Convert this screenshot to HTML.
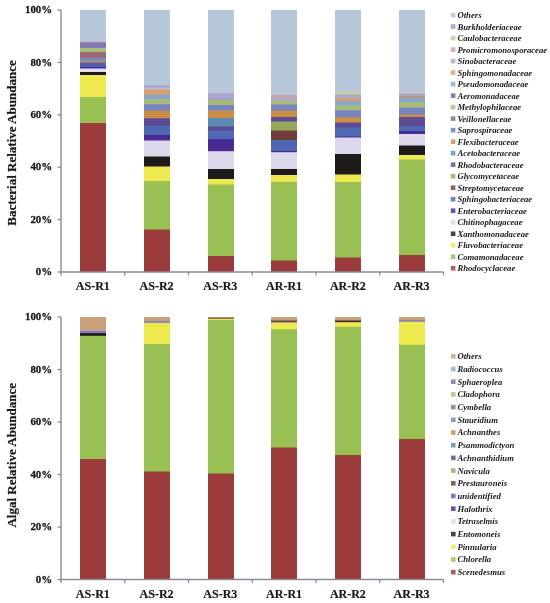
<!DOCTYPE html>
<html><head><meta charset="utf-8"><title>Relative abundance</title>
<style>
html,body{margin:0;padding:0;background:#fff;width:550px;height:603px;overflow:hidden}
svg{display:block;will-change:transform}
.yl{font-family:"Liberation Serif",serif;font-weight:bold;font-size:10.9px;stroke:#1a1a1a;stroke-width:0.3px;text-anchor:end;fill:#1a1a1a}
.xl{font-family:"Liberation Serif",serif;font-weight:bold;font-size:12px;stroke:#1a1a1a;stroke-width:0.2px;text-anchor:middle;fill:#1a1a1a}
.lg{font-family:"Liberation Serif",serif;font-weight:bold;font-style:italic;font-size:8.7px;fill:#1a1a1a}
.tt{font-family:"Liberation Serif",serif;font-weight:bold;font-size:13px;stroke:#1a1a1a;stroke-width:0.2px;text-anchor:middle;fill:#1a1a1a}
</style></head>
<body>
<svg width="550" height="603" viewBox="0 0 550 603">
<rect width="550" height="603" fill="#fff"/>
<rect x="80" y="10" width="26" height="262" fill="#B7C6D9"/>
<rect x="80" y="41.5" width="26" height="230.5" fill="#C9A3AA"/>
<rect x="80" y="42.5" width="26" height="229.5" fill="#8076B6"/>
<rect x="80" y="47.8" width="26" height="224.2" fill="#A8BC7A"/>
<rect x="80" y="52" width="26" height="220" fill="#9B6B72"/>
<rect x="80" y="58" width="26" height="214" fill="#6E8ACA"/>
<rect x="80" y="61" width="26" height="211" fill="#C98E45"/>
<rect x="80" y="62.5" width="26" height="209.5" fill="#5060AE"/>
<rect x="80" y="67" width="26" height="205" fill="#4B2A95"/>
<rect x="80" y="68.5" width="26" height="203.5" fill="#E4DEEF"/>
<rect x="80" y="72" width="26" height="200" fill="#1E1A1A"/>
<rect x="80" y="75" width="26" height="197" fill="#EEE94F"/>
<rect x="80" y="97" width="26" height="175" fill="#98C052"/>
<rect x="80" y="123" width="26" height="149" fill="#9A3B3C"/>
<rect x="144" y="10" width="26" height="262" fill="#B7C6D9"/>
<rect x="144" y="85" width="26" height="187" fill="#A9A6D5"/>
<rect x="144" y="87.8" width="26" height="184.2" fill="#B8BFD8"/>
<rect x="144" y="89.5" width="26" height="182.5" fill="#D9A06E"/>
<rect x="144" y="94.5" width="26" height="177.5" fill="#87A8CA"/>
<rect x="144" y="99.2" width="26" height="172.8" fill="#A8BC7A"/>
<rect x="144" y="104.2" width="26" height="167.8" fill="#7883C2"/>
<rect x="144" y="110.5" width="26" height="161.5" fill="#C98E45"/>
<rect x="144" y="118.2" width="26" height="153.8" fill="#5E4B92"/>
<rect x="144" y="125.8" width="26" height="146.2" fill="#4E68B3"/>
<rect x="144" y="135" width="26" height="137" fill="#4B2A95"/>
<rect x="144" y="140.5" width="26" height="131.5" fill="#DCD7EA"/>
<rect x="144" y="156.5" width="26" height="115.5" fill="#1E1A1A"/>
<rect x="144" y="166.5" width="26" height="105.5" fill="#EEE94F"/>
<rect x="144" y="181" width="26" height="91" fill="#98C052"/>
<rect x="144" y="229.5" width="26" height="42.5" fill="#9A3B3C"/>
<rect x="208" y="10" width="26" height="262" fill="#B7C6D9"/>
<rect x="208" y="93" width="26" height="179" fill="#B2A6CC"/>
<rect x="208" y="95" width="26" height="177" fill="#A9A6D5"/>
<rect x="208" y="99.5" width="26" height="172.5" fill="#A89090"/>
<rect x="208" y="100" width="26" height="172" fill="#A8BC7A"/>
<rect x="208" y="105" width="26" height="167" fill="#7883C2"/>
<rect x="208" y="110.5" width="26" height="161.5" fill="#C98E45"/>
<rect x="208" y="118" width="26" height="154" fill="#5B8AB5"/>
<rect x="208" y="126.5" width="26" height="145.5" fill="#5E4B92"/>
<rect x="208" y="130.5" width="26" height="141.5" fill="#4E68B3"/>
<rect x="208" y="139" width="26" height="133" fill="#4B2A95"/>
<rect x="208" y="151.2" width="26" height="120.8" fill="#DCD7EA"/>
<rect x="208" y="169" width="26" height="103" fill="#1E1A1A"/>
<rect x="208" y="179" width="26" height="93" fill="#EEE94F"/>
<rect x="208" y="184.5" width="26" height="87.5" fill="#98C052"/>
<rect x="208" y="256" width="26" height="16" fill="#9A3B3C"/>
<rect x="271" y="10" width="26" height="262" fill="#B7C6D9"/>
<rect x="271" y="95" width="26" height="177" fill="#C9A3AA"/>
<rect x="271" y="98" width="26" height="174" fill="#B0A5D0"/>
<rect x="271" y="100.8" width="26" height="171.2" fill="#A8BC7A"/>
<rect x="271" y="104.5" width="26" height="167.5" fill="#7883C2"/>
<rect x="271" y="110.5" width="26" height="161.5" fill="#C98E45"/>
<rect x="271" y="117" width="26" height="155" fill="#5E4B92"/>
<rect x="271" y="121.5" width="26" height="150.5" fill="#93AA5C"/>
<rect x="271" y="130.5" width="26" height="141.5" fill="#6E3F3A"/>
<rect x="271" y="140" width="26" height="132" fill="#4E68B3"/>
<rect x="271" y="151" width="26" height="121" fill="#4B2A95"/>
<rect x="271" y="152.2" width="26" height="119.8" fill="#DCD7EA"/>
<rect x="271" y="169" width="26" height="103" fill="#1E1A1A"/>
<rect x="271" y="175" width="26" height="97" fill="#EEE94F"/>
<rect x="271" y="181.8" width="26" height="90.2" fill="#98C052"/>
<rect x="271" y="260.5" width="26" height="11.5" fill="#9A3B3C"/>
<rect x="335" y="10" width="26" height="262" fill="#B7C6D9"/>
<rect x="335" y="91.5" width="26" height="180.5" fill="#C4D0A6"/>
<rect x="335" y="94.8" width="26" height="177.2" fill="#A9A6D5"/>
<rect x="335" y="98" width="26" height="174" fill="#D9A06E"/>
<rect x="335" y="101" width="26" height="171" fill="#87A8CA"/>
<rect x="335" y="105.5" width="26" height="166.5" fill="#A8BC7A"/>
<rect x="335" y="110.2" width="26" height="161.8" fill="#7883C2"/>
<rect x="335" y="117" width="26" height="155" fill="#C98E45"/>
<rect x="335" y="122.5" width="26" height="149.5" fill="#5E4B92"/>
<rect x="335" y="127.5" width="26" height="144.5" fill="#4E68B3"/>
<rect x="335" y="136.5" width="26" height="135.5" fill="#4B2A95"/>
<rect x="335" y="137.5" width="26" height="134.5" fill="#DCD7EA"/>
<rect x="335" y="154" width="26" height="118" fill="#1E1A1A"/>
<rect x="335" y="174.5" width="26" height="97.5" fill="#EEE94F"/>
<rect x="335" y="182" width="26" height="90" fill="#98C052"/>
<rect x="335" y="257.5" width="26" height="14.5" fill="#9A3B3C"/>
<rect x="399" y="10" width="26" height="262" fill="#B7C6D9"/>
<rect x="399" y="92" width="26" height="180" fill="#C4CCB4"/>
<rect x="399" y="93.5" width="26" height="178.5" fill="#A9A6D5"/>
<rect x="399" y="95.8" width="26" height="176.2" fill="#D4925A"/>
<rect x="399" y="97.2" width="26" height="174.8" fill="#87A8CA"/>
<rect x="399" y="102" width="26" height="170" fill="#A8BC7A"/>
<rect x="399" y="107.5" width="26" height="164.5" fill="#7883C2"/>
<rect x="399" y="114.5" width="26" height="157.5" fill="#C98E45"/>
<rect x="399" y="117" width="26" height="155" fill="#5E4B92"/>
<rect x="399" y="126" width="26" height="146" fill="#4E68B3"/>
<rect x="399" y="131" width="26" height="141" fill="#4B2A95"/>
<rect x="399" y="134" width="26" height="138" fill="#DCD7EA"/>
<rect x="399" y="145.5" width="26" height="126.5" fill="#1E1A1A"/>
<rect x="399" y="155" width="26" height="117" fill="#EEE94F"/>
<rect x="399" y="159.5" width="26" height="112.5" fill="#98C052"/>
<rect x="399" y="255" width="26" height="17" fill="#9A3B3C"/>
<line x1="61" y1="10" x2="61" y2="275.5" stroke="#8A8A99" stroke-width="1.4"/>
<line x1="61" y1="272" x2="443.5" y2="272" stroke="#8A8A99" stroke-width="1.4"/>
<line x1="57.5" y1="10" x2="61" y2="10" stroke="#8A8A99" stroke-width="1.3"/>
<text x="52.2" y="13.2" class="yl">100%</text>
<line x1="57.5" y1="62.4" x2="61" y2="62.4" stroke="#8A8A99" stroke-width="1.3"/>
<text x="52.2" y="65.6" class="yl">80%</text>
<line x1="57.5" y1="114.8" x2="61" y2="114.8" stroke="#8A8A99" stroke-width="1.3"/>
<text x="52.2" y="118" class="yl">60%</text>
<line x1="57.5" y1="167.2" x2="61" y2="167.2" stroke="#8A8A99" stroke-width="1.3"/>
<text x="52.2" y="170.4" class="yl">40%</text>
<line x1="57.5" y1="219.6" x2="61" y2="219.6" stroke="#8A8A99" stroke-width="1.3"/>
<text x="52.2" y="222.8" class="yl">20%</text>
<line x1="57.5" y1="272" x2="61" y2="272" stroke="#8A8A99" stroke-width="1.3"/>
<text x="52.2" y="275.2" class="yl">0%</text>
<line x1="124.75" y1="272" x2="124.75" y2="275.5" stroke="#8A8A99" stroke-width="1.3"/>
<line x1="188.5" y1="272" x2="188.5" y2="275.5" stroke="#8A8A99" stroke-width="1.3"/>
<line x1="252.25" y1="272" x2="252.25" y2="275.5" stroke="#8A8A99" stroke-width="1.3"/>
<line x1="316" y1="272" x2="316" y2="275.5" stroke="#8A8A99" stroke-width="1.3"/>
<line x1="379.75" y1="272" x2="379.75" y2="275.5" stroke="#8A8A99" stroke-width="1.3"/>
<line x1="443.5" y1="272" x2="443.5" y2="275.5" stroke="#8A8A99" stroke-width="1.3"/>
<text x="92.88" y="290.2" class="xl">AS-R1</text>
<text x="156.62" y="290.2" class="xl">AS-R2</text>
<text x="220.38" y="290.2" class="xl">AS-R3</text>
<text x="284.12" y="290.2" class="xl">AR-R1</text>
<text x="347.88" y="290.2" class="xl">AR-R2</text>
<text x="411.62" y="290.2" class="xl">AR-R3</text>
<rect x="450.8" y="12.75" width="4.6" height="4.6" fill="#C4D0E0"/>
<text x="457.4" y="18" class="lg">Others</text>
<rect x="450.8" y="24.26" width="4.6" height="4.6" fill="#ADA9D0"/>
<text x="457.4" y="29.51" class="lg">Burkholderiaceae</text>
<rect x="450.8" y="35.77" width="4.6" height="4.6" fill="#C8D8AF"/>
<text x="457.4" y="41.02" class="lg">Caulobacteraceae</text>
<rect x="450.8" y="47.28" width="4.6" height="4.6" fill="#D3B1B8"/>
<text x="457.4" y="52.53" class="lg">Promicromonosporaceae</text>
<rect x="450.8" y="58.79" width="4.6" height="4.6" fill="#B8B4DF"/>
<text x="457.4" y="64.04" class="lg">Sinobacteraceae</text>
<rect x="450.8" y="70.3" width="4.6" height="4.6" fill="#E0B185"/>
<text x="457.4" y="75.55" class="lg">Sphingomonadaceae</text>
<rect x="450.8" y="81.81" width="4.6" height="4.6" fill="#9DB8D4"/>
<text x="457.4" y="87.06" class="lg">Pseudomonadaceae</text>
<rect x="450.8" y="93.32" width="4.6" height="4.6" fill="#867CB8"/>
<text x="457.4" y="98.57" class="lg">Aeromonadaceae</text>
<rect x="450.8" y="104.83" width="4.6" height="4.6" fill="#B8C992"/>
<text x="457.4" y="110.08" class="lg">Methylophilaceae</text>
<rect x="450.8" y="116.34" width="4.6" height="4.6" fill="#AC828A"/>
<text x="457.4" y="121.59" class="lg">Veillonellaceae</text>
<rect x="450.8" y="127.85" width="4.6" height="4.6" fill="#7994CF"/>
<text x="457.4" y="133.1" class="lg">Saprospiraceae</text>
<rect x="450.8" y="139.36" width="4.6" height="4.6" fill="#D3A266"/>
<text x="457.4" y="144.61" class="lg">Flexibacteraceae</text>
<rect x="450.8" y="150.87" width="4.6" height="4.6" fill="#79A6CD"/>
<text x="457.4" y="156.12" class="lg">Acetobacteraceae</text>
<rect x="450.8" y="162.38" width="4.6" height="4.6" fill="#7B6BA6"/>
<text x="457.4" y="167.63" class="lg">Rhodobacteraceae</text>
<rect x="450.8" y="173.89" width="4.6" height="4.6" fill="#A6B979"/>
<text x="457.4" y="179.14" class="lg">Glycomycetaceae</text>
<rect x="450.8" y="185.4" width="4.6" height="4.6" fill="#88625D"/>
<text x="457.4" y="190.65" class="lg">Streptomycetaceae</text>
<rect x="450.8" y="196.91" width="4.6" height="4.6" fill="#6E83C1"/>
<text x="457.4" y="202.16" class="lg">Sphingobacteriaceae</text>
<rect x="450.8" y="208.42" width="4.6" height="4.6" fill="#6B50A8"/>
<text x="457.4" y="213.67" class="lg">Enterobacteriaceae</text>
<rect x="450.8" y="219.93" width="4.6" height="4.6" fill="#E2DEEE"/>
<text x="457.4" y="225.18" class="lg">Chitinophagaceae</text>
<rect x="450.8" y="231.44" width="4.6" height="4.6" fill="#464343"/>
<text x="457.4" y="236.69" class="lg">Xanthomonadaceae</text>
<rect x="450.8" y="242.95" width="4.6" height="4.6" fill="#F1ED6F"/>
<text x="457.4" y="248.2" class="lg">Flavobacteriaceae</text>
<rect x="450.8" y="254.46" width="4.6" height="4.6" fill="#ABCB71"/>
<text x="457.4" y="259.71" class="lg">Comamonadaceae</text>
<rect x="450.8" y="265.97" width="4.6" height="4.6" fill="#AC5E5F"/>
<text x="457.4" y="271.22" class="lg">Rhodocyclaceae</text>
<text transform="translate(16,143) rotate(-90)" class="tt">Bacterial Relative Abundance</text>
<rect x="80" y="317" width="26" height="262.5" fill="#C9A07A"/>
<rect x="80" y="330" width="26" height="249.5" fill="#D8D0E0"/>
<rect x="80" y="330.5" width="26" height="249" fill="#8A7AAE"/>
<rect x="80" y="333.2" width="26" height="246.3" fill="#1E1A1A"/>
<rect x="80" y="335.8" width="26" height="243.7" fill="#98C052"/>
<rect x="80" y="459" width="26" height="120.5" fill="#9A3B3C"/>
<rect x="144" y="317" width="26" height="262.5" fill="#C9A07A"/>
<rect x="144" y="321" width="26" height="258.5" fill="#8E84A8"/>
<rect x="144" y="322.8" width="26" height="256.7" fill="#C8D8A0"/>
<rect x="144" y="323.5" width="26" height="256" fill="#EEE94F"/>
<rect x="144" y="344" width="26" height="235.5" fill="#98C052"/>
<rect x="144" y="471.5" width="26" height="108" fill="#9A3B3C"/>
<rect x="208" y="317" width="26" height="262.5" fill="#B88A6A"/>
<rect x="208" y="318.5" width="26" height="261" fill="#5A4A40"/>
<rect x="208" y="319" width="26" height="260.5" fill="#EEE94F"/>
<rect x="208" y="320" width="26" height="259.5" fill="#98C052"/>
<rect x="208" y="473.5" width="26" height="106" fill="#9A3B3C"/>
<rect x="271" y="317" width="26" height="262.5" fill="#C9A07A"/>
<rect x="271" y="320.5" width="26" height="259" fill="#6B4A3A"/>
<rect x="271" y="322.5" width="26" height="257" fill="#F0F0D0"/>
<rect x="271" y="323" width="26" height="256.5" fill="#EEE94F"/>
<rect x="271" y="329.2" width="26" height="250.3" fill="#98C052"/>
<rect x="271" y="447.5" width="26" height="132" fill="#9A3B3C"/>
<rect x="335" y="317" width="26" height="262.5" fill="#C9A07A"/>
<rect x="335" y="320.5" width="26" height="259" fill="#3E2A35"/>
<rect x="335" y="322.2" width="26" height="257.3" fill="#EEE94F"/>
<rect x="335" y="326.8" width="26" height="252.7" fill="#98C052"/>
<rect x="335" y="455" width="26" height="124.5" fill="#9A3B3C"/>
<rect x="399" y="317" width="26" height="262.5" fill="#C9A07A"/>
<rect x="399" y="320" width="26" height="259.5" fill="#8E84A8"/>
<rect x="399" y="321.8" width="26" height="257.7" fill="#EEE94F"/>
<rect x="399" y="344.8" width="26" height="234.7" fill="#98C052"/>
<rect x="399" y="439" width="26" height="140.5" fill="#9A3B3C"/>
<line x1="61" y1="317" x2="61" y2="583" stroke="#8A8A99" stroke-width="1.4"/>
<line x1="61" y1="579.5" x2="443.5" y2="579.5" stroke="#8A8A99" stroke-width="1.4"/>
<line x1="57.5" y1="317" x2="61" y2="317" stroke="#8A8A99" stroke-width="1.3"/>
<text x="52.2" y="320.2" class="yl">100%</text>
<line x1="57.5" y1="369.5" x2="61" y2="369.5" stroke="#8A8A99" stroke-width="1.3"/>
<text x="52.2" y="372.7" class="yl">80%</text>
<line x1="57.5" y1="422" x2="61" y2="422" stroke="#8A8A99" stroke-width="1.3"/>
<text x="52.2" y="425.2" class="yl">60%</text>
<line x1="57.5" y1="474.5" x2="61" y2="474.5" stroke="#8A8A99" stroke-width="1.3"/>
<text x="52.2" y="477.7" class="yl">40%</text>
<line x1="57.5" y1="527" x2="61" y2="527" stroke="#8A8A99" stroke-width="1.3"/>
<text x="52.2" y="530.2" class="yl">20%</text>
<line x1="57.5" y1="579.5" x2="61" y2="579.5" stroke="#8A8A99" stroke-width="1.3"/>
<text x="52.2" y="582.7" class="yl">0%</text>
<line x1="124.75" y1="579.5" x2="124.75" y2="583" stroke="#8A8A99" stroke-width="1.3"/>
<line x1="188.5" y1="579.5" x2="188.5" y2="583" stroke="#8A8A99" stroke-width="1.3"/>
<line x1="252.25" y1="579.5" x2="252.25" y2="583" stroke="#8A8A99" stroke-width="1.3"/>
<line x1="316" y1="579.5" x2="316" y2="583" stroke="#8A8A99" stroke-width="1.3"/>
<line x1="379.75" y1="579.5" x2="379.75" y2="583" stroke="#8A8A99" stroke-width="1.3"/>
<line x1="443.5" y1="579.5" x2="443.5" y2="583" stroke="#8A8A99" stroke-width="1.3"/>
<text x="92.88" y="597.7" class="xl">AS-R1</text>
<text x="156.62" y="597.7" class="xl">AS-R2</text>
<text x="220.38" y="597.7" class="xl">AS-R3</text>
<text x="284.12" y="597.7" class="xl">AR-R1</text>
<text x="347.88" y="597.7" class="xl">AR-R2</text>
<text x="411.62" y="597.7" class="xl">AR-R3</text>
<rect x="451" y="354" width="4.6" height="4.6" fill="#D3B192"/>
<text x="457.4" y="359.25" class="lg">Others</text>
<rect x="451" y="366.7" width="4.6" height="4.6" fill="#A2BED8"/>
<text x="457.4" y="371.95" class="lg">Radiococcus</text>
<rect x="451" y="379.4" width="4.6" height="4.6" fill="#9288BE"/>
<text x="457.4" y="384.65" class="lg">Sphaeroplea</text>
<rect x="451" y="392.1" width="4.6" height="4.6" fill="#B8CB97"/>
<text x="457.4" y="397.35" class="lg">Cladophora</text>
<rect x="451" y="404.8" width="4.6" height="4.6" fill="#B18A90"/>
<text x="457.4" y="410.05" class="lg">Cymbella</text>
<rect x="451" y="417.5" width="4.6" height="4.6" fill="#859DD2"/>
<text x="457.4" y="422.75" class="lg">Stauridium</text>
<rect x="451" y="430.2" width="4.6" height="4.6" fill="#D3A266"/>
<text x="457.4" y="435.45" class="lg">Achnanthes</text>
<rect x="451" y="442.9" width="4.6" height="4.6" fill="#799FC2"/>
<text x="457.4" y="448.15" class="lg">Psammodictyon</text>
<rect x="451" y="455.6" width="4.6" height="4.6" fill="#7B6BA6"/>
<text x="457.4" y="460.85" class="lg">Achnanthidium</text>
<rect x="451" y="468.3" width="4.6" height="4.6" fill="#A6B979"/>
<text x="457.4" y="473.55" class="lg">Navicula</text>
<rect x="451" y="481" width="4.6" height="4.6" fill="#88625D"/>
<text x="457.4" y="486.25" class="lg">Prestauroneis</text>
<rect x="451" y="493.7" width="4.6" height="4.6" fill="#6E83C1"/>
<text x="457.4" y="498.95" class="lg">unidentified</text>
<rect x="451" y="506.4" width="4.6" height="4.6" fill="#6B50A8"/>
<text x="457.4" y="511.65" class="lg">Halothrix</text>
<rect x="451" y="519.1" width="4.6" height="4.6" fill="#E2DEEE"/>
<text x="457.4" y="524.35" class="lg">Tetraselmis</text>
<rect x="451" y="531.8" width="4.6" height="4.6" fill="#464343"/>
<text x="457.4" y="537.05" class="lg">Entomoneis</text>
<rect x="451" y="544.5" width="4.6" height="4.6" fill="#F1ED6F"/>
<text x="457.4" y="549.75" class="lg">Pinnularia</text>
<rect x="451" y="557.2" width="4.6" height="4.6" fill="#ABCB71"/>
<text x="457.4" y="562.45" class="lg">Chlorella</text>
<rect x="451" y="569.9" width="4.6" height="4.6" fill="#AC5E5F"/>
<text x="457.4" y="575.15" class="lg">Scenedesmus</text>
<text transform="translate(16,455.3) rotate(-90)" class="tt">Algal Relative Abundance</text>
</svg>
</body></html>
